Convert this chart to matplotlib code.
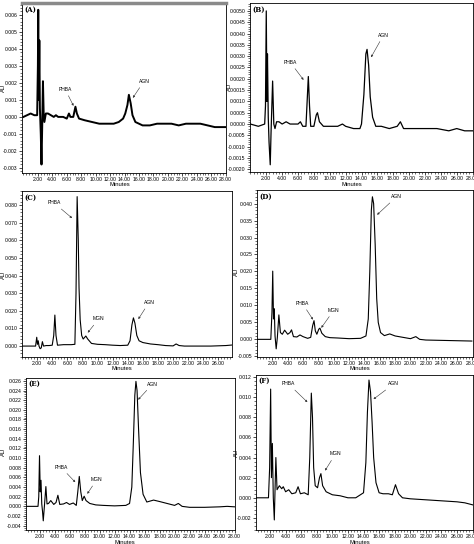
import matplotlib
matplotlib.use("Agg")
import matplotlib.pyplot as plt
from matplotlib.ticker import MultipleLocator, AutoMinorLocator, FormatStrFormatter

plt.rcParams['font.family'] = ['Liberation Sans', 'DejaVu Sans']

# ---------------- data (minutes, AU) ----------------
tA = [0.0, 0.5, 1.0, 1.5, 1.9, 2.0, 2.05, 2.12, 2.2, 2.28, 2.4, 2.5, 2.6, 2.7, 2.8, 2.9, 3.1, 3.4,
      3.8, 4.2, 4.5, 4.8, 5.5, 6.0, 6.3, 6.5, 6.9, 7.05, 7.2, 7.4, 7.7, 8.5, 9.5, 10.5, 11.5, 12.5,
      13.2, 13.8, 14.1, 14.4, 14.6, 14.85, 15.1, 15.5, 16.5, 17.5, 18.5, 19.5, 20.5, 21.5, 22.5,
      23.5, 24.5, 25.5, 26.5, 27.5, 28.0]
yA = [0.0000, 0.0001, 0.0002, 0.0001, 0.0001, 0.0030, 0.0063, 0.0010, 0.0045, 0.0005, -0.0010,
      -0.0028, -0.0005, 0.0021, 0.0002, -0.0003, 0.0002, 0.0002, 0.0001, 0.0000, 0.0001, 0.0000,
      0.0000, -0.0001, 0.0002, 0.0000, 0.0000, 0.0003, 0.0006, 0.0002, -0.0001, -0.0002, -0.0003,
      -0.0004, -0.0004, -0.0004, -0.0003, -0.0001, 0.0002, 0.0007, 0.0013, 0.0008, 0.0001,
      -0.0003, -0.0005, -0.0005, -0.0004, -0.0004, -0.0004, -0.0005, -0.0004, -0.0004, -0.0004,
      -0.0005, -0.0006, -0.0006, -0.0006]

tB = [0.0, 1.0, 1.8, 1.9, 2.0, 2.08, 2.15, 2.25, 2.35, 2.5, 2.6, 2.8, 2.95, 3.1, 3.3, 3.6, 4.0, 4.5,
      5.0, 6.0, 6.3, 6.6, 7.0, 7.15, 7.3, 7.45, 7.6, 8.0, 8.3, 8.45, 8.7, 9.2, 10.0, 11.0, 11.6,
      12.0, 13.0, 13.8, 14.0, 14.3, 14.55, 14.7, 14.9, 15.1, 15.4, 15.8, 16.5, 17.5, 18.5, 18.9,
      19.3, 20.5, 22.0, 23.5, 25.0, 26.0, 27.0, 28.0]
yB = [0.0000, -0.0001, 0.0000, 0.0008, 0.0050, 0.0010, 0.0031, 0.0003, -0.0008, -0.0018, -0.0004,
      0.0019, 0.0000, -0.0002, 0.0001, 0.0001, 0.0000, 0.0001, 0.0000, 0.0000, 0.0001, -0.0001,
      -0.0001, 0.0010, 0.0021, 0.0008, -0.0001, -0.0001, 0.0004, 0.0005, 0.0001, -0.0001, -0.0001,
      -0.0001, 0.0000, -0.0001, -0.0002, -0.0002, 0.0000, 0.0013, 0.0031, 0.0033, 0.0026, 0.0012,
      0.0003, -0.0001, -0.0001, -0.0002, -0.0001, 0.0001, -0.0002, -0.0002, -0.0002, -0.0002,
      -0.0003, -0.0002, -0.0003, -0.0003]

tC = [0.0, 1.8, 1.95, 2.05, 2.15, 2.25, 2.4, 2.55, 2.7, 2.85, 3.2, 3.6, 4.0, 4.2, 4.35, 4.5, 4.7,
      5.5, 6.5, 7.0, 7.15, 7.3, 7.45, 7.55, 7.7, 7.9, 8.1, 8.45, 8.7, 9.2, 10.0, 11.0, 12.0, 13.0,
      14.0, 14.3, 14.55, 14.75, 14.95, 15.2, 15.5, 16.0, 17.0, 18.0, 19.0, 20.0, 20.4, 20.8, 21.5,
      23.0, 25.0, 27.0, 27.8]
yC = [0.0000, 0.0000, 0.0050, 0.0010, 0.0030, 0.0000, -0.0015, -0.0010, 0.0025, 0.0000, 0.0003,
      0.0003, 0.0005, 0.0060, 0.0176, 0.0060, 0.0005, 0.0008, 0.0008, 0.0010, 0.0300, 0.0848,
      0.0600, 0.0330, 0.0150, 0.0060, 0.0040, 0.0057, 0.0040, 0.0015, 0.0010, 0.0008, 0.0005,
      0.0003, 0.0005, 0.0030, 0.0120, 0.0160, 0.0130, 0.0060, 0.0030, 0.0020, 0.0012, 0.0008,
      0.0003, 0.0001, 0.0012, 0.0003, 0.0000, 0.0000, 0.0000, 0.0003, 0.0006]

tD = [0.0, 1.8, 1.95, 2.05, 2.15, 2.25, 2.35, 2.5, 2.65, 2.85, 3.05, 3.3, 3.6, 4.0, 4.3, 4.5, 4.75,
      5.2, 5.6, 6.0, 6.6, 7.0, 7.25, 7.43, 7.6, 7.8, 8.05, 8.2, 8.45, 8.9, 9.5, 10.5, 12.0, 13.5,
      14.2, 14.5, 14.7, 14.9, 15.04, 15.2, 15.4, 15.6, 15.8, 16.1, 16.6, 17.3, 18.0, 19.0, 20.0,
      20.7, 21.2, 22.0, 24.0, 26.0, 28.0]
yD = [0.0000, 0.0000, 0.0080, 0.0201, 0.0060, 0.0090, 0.0010, -0.0028, 0.0005, 0.0072, 0.0020,
      0.0015, 0.0027, 0.0015, 0.0020, 0.0028, 0.0008, 0.0007, 0.0013, 0.0008, 0.0003, 0.0006,
      0.0040, 0.0055, 0.0025, 0.0015, 0.0030, 0.0033, 0.0018, 0.0008, 0.0005, 0.0004, 0.0002,
      0.0003, 0.0010, 0.0060, 0.0200, 0.0380, 0.0420, 0.0400, 0.0280, 0.0120, 0.0050, 0.0020,
      0.0011, 0.0016, 0.0010, 0.0006, 0.0002, 0.0008, 0.0000, -0.0002, -0.0003, -0.0004, -0.0005]

tE = [0.0, 1.8, 1.9, 2.0, 2.1, 2.2, 2.3, 2.4, 2.5, 2.65, 2.85, 3.0, 3.2, 3.5, 3.9, 4.2, 4.45, 4.7,
      5.2, 5.6, 6.0, 6.5, 6.9, 7.1, 7.3, 7.5, 7.7, 7.95, 8.2, 8.7, 9.5, 10.5, 12.0, 13.5, 14.0,
      14.3, 14.5, 14.7, 14.85, 15.0, 15.2, 15.45, 15.8, 16.3, 17.2, 18.0, 19.0, 20.0, 20.5, 21.0,
      22.0, 24.0, 26.0, 27.0, 28.0]
yE = [0.0000, 0.0000, 0.0020, 0.0105, 0.0030, 0.0054, 0.0005, -0.0010, -0.0030, 0.0000, 0.0041,
      0.0005, 0.0006, 0.0012, 0.0004, 0.0008, 0.0023, 0.0004, 0.0005, 0.0008, 0.0004, 0.0007,
      0.0002, 0.0030, 0.0062, 0.0030, 0.0012, 0.0021, 0.0012, 0.0006, 0.0003, 0.0002, 0.0001,
      0.0002, 0.0006, 0.0040, 0.0130, 0.0230, 0.0259, 0.0240, 0.0160, 0.0070, 0.0025, 0.0009,
      0.0013, 0.0010, 0.0006, 0.0002, 0.0006, 0.0000, -0.0002, -0.0002, -0.0001, 0.0000, -0.0001]

tF = [0.0, 1.8, 1.95, 2.08, 2.18, 2.3, 2.42, 2.55, 2.65, 2.75, 2.9, 3.2, 3.5, 3.7, 4.0, 4.4, 4.8,
      5.3, 5.6, 5.9, 6.4, 6.9, 7.1, 7.3, 7.45, 7.6, 7.8, 8.1, 8.35, 8.53, 8.75, 9.2, 10.0, 11.0,
      12.0, 13.0, 14.0, 14.3, 14.5, 14.7, 14.9, 15.1, 15.3, 15.6, 16.0, 16.5, 17.2, 17.7, 18.1,
      18.5, 19.0, 20.0, 22.0, 24.0, 26.0, 27.0, 28.0]
yF = [0.0000, 0.0000, 0.0030, 0.0108, 0.0020, 0.0054, 0.0000, -0.0022, 0.0010, 0.0040, 0.0008,
      0.0012, 0.0009, 0.0011, 0.0006, 0.0008, 0.0004, 0.0005, 0.0011, 0.0004, 0.0005, 0.0003,
      0.0040, 0.0104, 0.0080, 0.0030, 0.0012, 0.0010, 0.0020, 0.0024, 0.0012, 0.0006, 0.0003,
      0.0002, 0.0000, 0.0000, 0.0005, 0.0035, 0.0085, 0.0117, 0.0105, 0.0075, 0.0040, 0.0015,
      0.0005, 0.0004, 0.0004, 0.0003, 0.0013, 0.0004, 0.0000, -0.0001, -0.0002, -0.0003, -0.0004,
      -0.0005, -0.0007]

xtick_labels_max = {'A': 28, 'B': 28, 'C': 26, 'D': 28, 'E': 28, 'F': 28}

# ---------------- layout ----------------
W, H = 474, 544
fig = plt.figure(figsize=(W / 100, H / 100), dpi=100)


def rect(l, t, r, b):
    return [l / W, 1 - b / H, (r - l) / W, (b - t) / H]


panels = {
    'A': dict(r=rect(22, 3, 226, 173), t=tA, y=yA, xl=(-0.2, 28.05), yl=(-0.0033, 0.0067),
              ystep=0.001, yfmt='%.3f', lw=1.4, minutes=(120, 185), au=(3, 88)),
    'B': dict(r=rect(250, 3, 473, 172), t=tB, y=yB, xl=(-0.05, 28.05), yl=(-0.00212, 0.00535),
              ystep=0.0005, yfmt='%.4f', lw=0.9, minutes=(352, 185), au=(229, 87)),
    'C': dict(r=rect(22, 191, 232, 357), t=tC, y=yC, xl=(0.0, 27.8), yl=(-0.0062, 0.088),
              ystep=0.01, yfmt='%.3f', lw=0.8, minutes=(122, 369), au=(3, 275)),
    'D': dict(r=rect(257, 190, 473, 357), t=tD, y=yD, xl=(0.0, 28.15), yl=(-0.0052, 0.044),
              ystep=0.005, yfmt='%.3f', lw=0.8, minutes=(360, 369), au=(236, 272)),
    'E': dict(r=rect(26, 378, 235, 530), t=tE, y=yE, xl=(0.2, 28.05), yl=(-0.0049, 0.0266),
              ystep=0.002, yfmt='%.3f', lw=0.8, minutes=(125, 542), au=(3, 452)),
    'F': dict(r=rect(256, 375, 473, 530), t=tF, y=yF, xl=(0.2, 28.05), yl=(-0.0032, 0.0122),
              ystep=0.002, yfmt='%.3f', lw=0.8, minutes=(360, 542), au=(236, 453)),
}

annos = {
    'A': [('PHBA', (6.93, 0.00065), (-6, 12)), ('AGN', (15.15, 0.00112), (8, 12))],
    'B': [('PHBA', (6.7, 0.00195), (-9.6, 12.7)), ('AGN', (15.2, 0.00295), (9, 16))],
    'C': [('PHBA', (6.63, 0.0726), (-13, 11)), ('MGN', (8.7, 0.0076), (8, 10)),
          ('AGN', (15.4, 0.0153), (7.7, 12))],
    'D': [('AGN', (15.65, 0.0367), (14, 13)), ('PHBA', (7.3, 0.0058), (-7.7, 11.8)),
          ('MGN', (8.38, 0.0034), (9, 12.7))],
    'E': [('AGN', (15.14, 0.0221), (10.4, 11.3)), ('PHBA', (6.77, 0.0050), (-10.3, 10.8)),
          ('MGN', (8.37, 0.0026), (6.8, 10.3))],
    'F': [('PHBA', (6.8, 0.0095), (-13.7, 13.2)), ('AGN', (15.28, 0.0098), (14.6, 11)),
          ('MGN', (9.06, 0.0027), (7.5, 12))],
}

for key, p in panels.items():
    ax = fig.add_axes(p['r'])
    ax.plot(p['t'], p['y'], color='black', lw=p['lw'], solid_joinstyle='round')
    ax.set_xlim(*p['xl'])
    ax.set_ylim(*p['yl'])
    ax.yaxis.set_major_locator(MultipleLocator(p['ystep']))
    ax.yaxis.set_minor_locator(AutoMinorLocator(5))
    ax.xaxis.set_major_formatter(FormatStrFormatter('%.2f'))
    ax.yaxis.set_major_formatter(FormatStrFormatter(p['yfmt']))
    xmax_lab = xtick_labels_max[key]
    ax.set_xticks([v for v in range(2, xmax_lab + 1, 2)])
    ax.xaxis.set_minor_locator(MultipleLocator(0.4))
    ax.tick_params(axis='both', which='major', labelsize=3.7, length=2, width=0.5, pad=1.1,
                   direction='out')
    ax.tick_params(axis='both', which='minor', length=1.2, width=0.4, direction='out')
    for s in ax.spines.values():
        s.set_linewidth(0.6)
    if key == 'A':
        ax.spines['top'].set_color('#8a8a8a')
        ax.spines['top'].set_linewidth(2.5)
    ax.text(0.012, 0.985, '(%s)' % key, transform=ax.transAxes, fontsize=5, fontweight='bold',
            family=['DejaVu Serif'], ha='left', va='top')
    for label, xy, off in annos[key]:
        ax.annotate(label, xy=xy, xytext=off, textcoords='offset points', fontsize=3.6,
                    ha='center', va='center',
                    arrowprops=dict(arrowstyle='-|>', lw=0.4, color='#333333',
                                    mutation_scale=3, shrinkA=1, shrinkB=0))
    mx, my = p['minutes']
    fig.text(mx / W, 1 - my / H, 'Minutes', fontsize=4.2, ha='center', va='center')
    ux, uy = p['au']
    fig.text(ux / W, 1 - uy / H, 'AU', fontsize=4.3, ha='center', va='center', rotation=90)

fig.savefig('out.png', dpi=100)
